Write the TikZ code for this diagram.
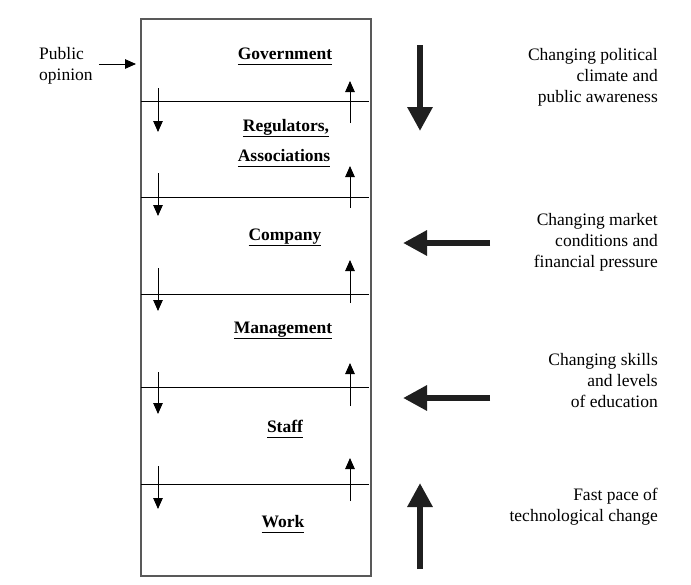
\documentclass[tikz,border=0pt]{standalone}
\usepackage{fontspec}
\setmainfont{Liberation Serif}
\usepackage{tikz}
\usetikzlibrary{positioning}
\usetikzlibrary{arrows.meta}
\newcommand{\figfont}{\fontsize{17.5}{20.7}\selectfont}
\tikzset{
  bigarrow/.style={line width=6pt,black!88,-{Triangle[length=24pt,width=24pt]}},
  smallarrow/.style={line width=0.9pt,-{Triangle[length=11pt,width=9.5pt]}},
  levellabel/.style={font=\figfont\bfseries,anchor=base,inner sep=0pt},
  causetext/.style={align=right,anchor=base east,inner sep=0pt},
}
\newcommand{\lvl}[1]{\underline{\smash{#1}\vphantom{p}}}

\begin{document}
\begin{tikzpicture}[x=1pt,y=-1pt,font=\figfont]
\useasboundingbox (0,0) rectangle (691,584);
\draw[black!65,line width=1.3pt] (141,19) rectangle (371,576);
\foreach \y in {101,197,294,387,484} {
\draw[line width=0.9pt] (141,\y) -- (369,\y);
}
\foreach \ya/\yb in {88/132,173/216,268/311,372/414,466/509} {
\draw[smallarrow] (158,\ya) -- (158,\yb);
}
\foreach \ya/\yb in {123/81,208/166,303/260,406/363,501/458} {
\draw[smallarrow] (350,\ya) -- (350,\yb);
}
\node[levellabel] (gov) at (285,59) {\lvl{Government}};
\node[levellabel] (reg) at (286,131) {\lvl{Regulators,}};
\node[levellabel] (assoc) at (284,161) {\lvl{Associations}};
\node[levellabel] (comp) at (285,240) {\lvl{Company}};
\node[levellabel] (mgmt) at (283,333) {\lvl{Management}};
\node[levellabel] (staff) at (285,432) {\lvl{Staff}};
\node[levellabel] (work) at (283,527) {\lvl{Work}};
% base of a two- or three-line node is its last line
\node[align=left,anchor=base west,inner sep=0pt] (opinion) at (39,80) {Public\\opinion};
\coordinate (opinionhit) at (136,64);
\draw[smallarrow,shorten <=6pt] (opinion.east |- opinionhit) -- (opinionhit);
\node[causetext] (political) at (658,102) {Changing political\\climate and\\public awareness};
\node[causetext] (market) at (658,267) {Changing market\\conditions and\\financial pressure};
\node[causetext] (skills) at (658,407) {Changing skills\\and levels\\of education};
\node[causetext] (tech) at (658,521) {Fast pace of\\technological change};
\coordinate (politicalfrom) at (420,45);
\coordinate (politicalto) at (420,131);
\coordinate (marketfrom) at (490,243);
\coordinate (marketto) at (403,243);
\coordinate (skillsfrom) at (490,398);
\coordinate (skillsto) at (403,398);
\coordinate (techfrom) at (420,569);
\coordinate (techto) at (420,483);
\draw[bigarrow] (politicalfrom) -- (politicalto);
\draw[bigarrow] (marketfrom) -- (marketto);
\draw[bigarrow] (skillsfrom) -- (skillsto);
\draw[bigarrow] (techfrom) -- (techto);
\end{tikzpicture}
\end{document}
